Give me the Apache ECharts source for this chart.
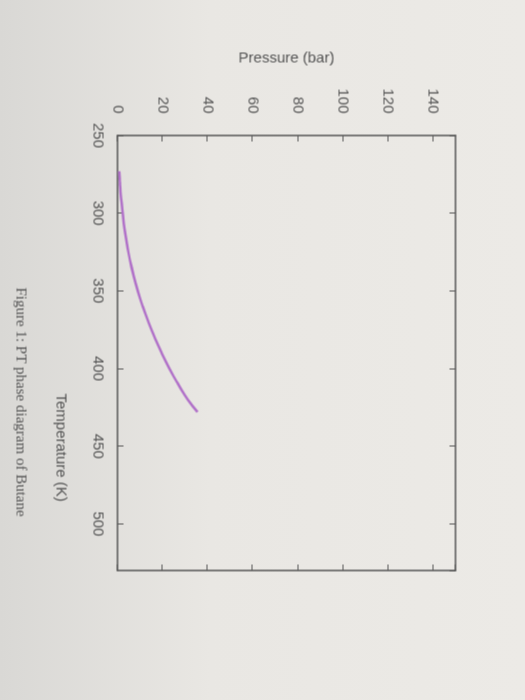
<!DOCTYPE html>
<html><head><meta charset="utf-8">
<script src="https://cdn.jsdelivr.net/npm/echarts@6/dist/echarts.min.js"></script>
<style>
html,body{margin:0;padding:0;width:525px;height:700px;overflow:hidden;background:linear-gradient(90deg,#d9d8d5 0%,#e9e7e3 40%,#eceae6 100%);}
#c{position:absolute;width:700px;height:525px;left:-87.5px;top:87.5px;transform:rotate(90deg);}
</style></head><body>
<div id="c"></div>
<script>
const temperature = [273, 280, 290, 300, 310, 320, 330, 340, 350, 360, 370, 380, 390, 400, 410, 420, 428];
const pressure    = [0.8, 1.1, 1.6, 2.3, 3.1, 4.2, 5.5, 7.1, 9.0, 11.2, 13.7, 16.5, 19.6, 23.0, 26.9, 31.2, 35.5];
const tempTicks = [250, 300, 350, 400, 450, 500];
const pressTicks = [0, 20, 40, 60, 80, 100, 120, 140];
const caption = 'Figure 1: PT phase diagram of Butane';
const tempName = 'Temperature (K)';

const axisCol = '#555';
const chart = echarts.init(document.getElementById('c'));
const base = {axisLine:{show:true,onZero:false,lineStyle:{color:axisCol,width:1.5}},
  axisTick:{show:true,inside:true,length:6,lineStyle:{color:axisCol}},splitLine:{show:false}};
chart.setOption({
  backgroundColor:'transparent',
  title:[
    {text:caption,left:282,top:493,textStyle:{fontFamily:'Liberation Serif',fontWeight:'normal',fontSize:15,color:'#555'}},
    {text:tempName,left:388,top:452,textStyle:{fontFamily:'Liberation Sans',fontWeight:'normal',fontSize:15,color:'#555'}}
  ],
  grid:{left:135,right:130,top:70,bottom:117},
  xAxis:[
    Object.assign({type:'value',min:250,max:530,interval:50,position:'bottom',
      axisLabel:{fontFamily:'Liberation Sans',fontSize:15,color:'#555',margin:12,showMaxLabel:false,
        formatter:v=>tempTicks.includes(v)?String(v):''}},base),
    Object.assign({type:'value',min:250,max:530,interval:50,position:'top',axisLabel:{show:false}},base)
  ],
  yAxis:[
    Object.assign({type:'value',min:0,max:150,interval:20,position:'left',
      name:'Pressure (bar)',nameLocation:'middle',nameGap:70,nameRotate:90,
      nameTextStyle:{fontFamily:'Liberation Sans',fontSize:15,color:'#555'},
      axisLabel:{fontFamily:'Liberation Sans',fontSize:15,color:'#555',margin:22,showMaxLabel:false,
        formatter:v=>pressTicks.includes(v)?String(v):''}},base),
    Object.assign({type:'value',min:0,max:150,interval:20,position:'right',axisLabel:{show:false}},base)
  ],
  series:[{type:'line',data:temperature.map((t,i)=>[t,pressure[i]]),smooth:true,showSymbol:false,
    lineStyle:{color:'#b070c8',width:2.5},animation:false}]
});
</script></body></html>
